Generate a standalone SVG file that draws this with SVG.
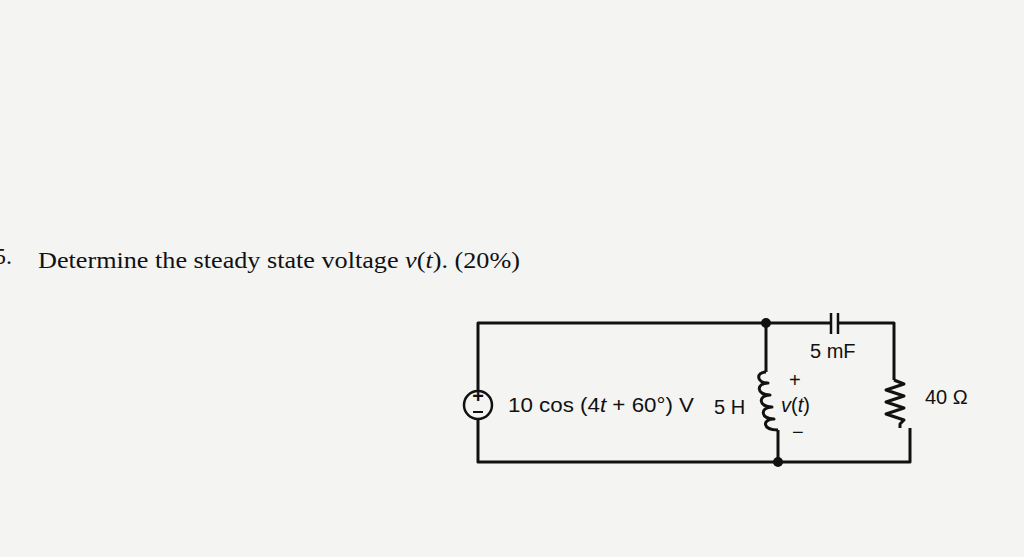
<svg xmlns="http://www.w3.org/2000/svg" width="1024" height="557" viewBox="0 0 1024 557">
<style>
.w{fill:none;stroke:#111;stroke-width:3;stroke-linejoin:round}
.t{font-family:"Liberation Sans",Arial,sans-serif;font-size:20px;fill:#111}
.s{font-family:"Liberation Serif","Times New Roman",serif;font-size:24px;fill:#111}
</style>
<rect width="1024" height="557" fill="#f4f4f3"/>
<text class="s" x="-6" y="264">5.</text>
<text class="s" x="38" y="268" textLength="482" lengthAdjust="spacingAndGlyphs">Determine the steady state voltage <tspan font-style="italic">v</tspan>(<tspan font-style="italic">t</tspan>). (20%)</text>
<g id="connectors">
<path class="w" d="M478,391 V323 H831 M838,323 H894 V380"/>
<path class="w" d="M478,419 V462 H910 V428"/>
<path class="w" d="M766,323 V372 M778,430 V462"/>
</g>
<g id="source">
<circle cx="478" cy="405" r="14" fill="none" stroke="#111" stroke-width="2.5"/>
<text class="t" x="478" y="403" text-anchor="middle" font-size="13" font-weight="bold">+</text>
<line x1="473" y1="412" x2="483" y2="412" stroke="#111" stroke-width="2"/>
<text class="t" x="508" y="412" textLength="186" lengthAdjust="spacingAndGlyphs">10 cos (4<tspan font-style="italic">t</tspan> + 60°) V</text>
</g>
<g id="inductor">
<path class="w" d="M766,372 c-10,0 -10,11 2,11 c-12,0 -12,12 2,12 c-12,0 -12,12 2,12 c-12,0 -12,12 2,12 c-12,0 -12,11 4,11"/>
<text class="t" x="714" y="414">5 H</text>
</g>
<g id="capacitor">
<line x1="831" y1="313" x2="831" y2="334" stroke="#111" stroke-width="2.5"/>
<line x1="838" y1="313" x2="838" y2="334" stroke="#111" stroke-width="2.5"/>
<text class="t" x="810" y="358">5 mF</text>
</g>
<g id="resistor">
<path class="w" d="M894,380 l10,4 l-18,6 l18,6 l-18,6 l18,6 l-18,6 l18,6 l-4,4 V428"/>
<text class="t" x="925" y="404">40 Ω</text>
</g>
<g id="vlabel">
<text class="t" x="789" y="387">+</text>
<text class="t" x="781" y="412" font-family="Liberation Serif,serif" font-style="italic">v<tspan font-style="normal">(</tspan>t<tspan font-style="normal">)</tspan></text>
<text class="t" x="792" y="439">−</text>
</g>
<circle cx="766" cy="323" r="5" fill="#111"/>
<circle cx="778" cy="462" r="5" fill="#111"/>
</svg>
